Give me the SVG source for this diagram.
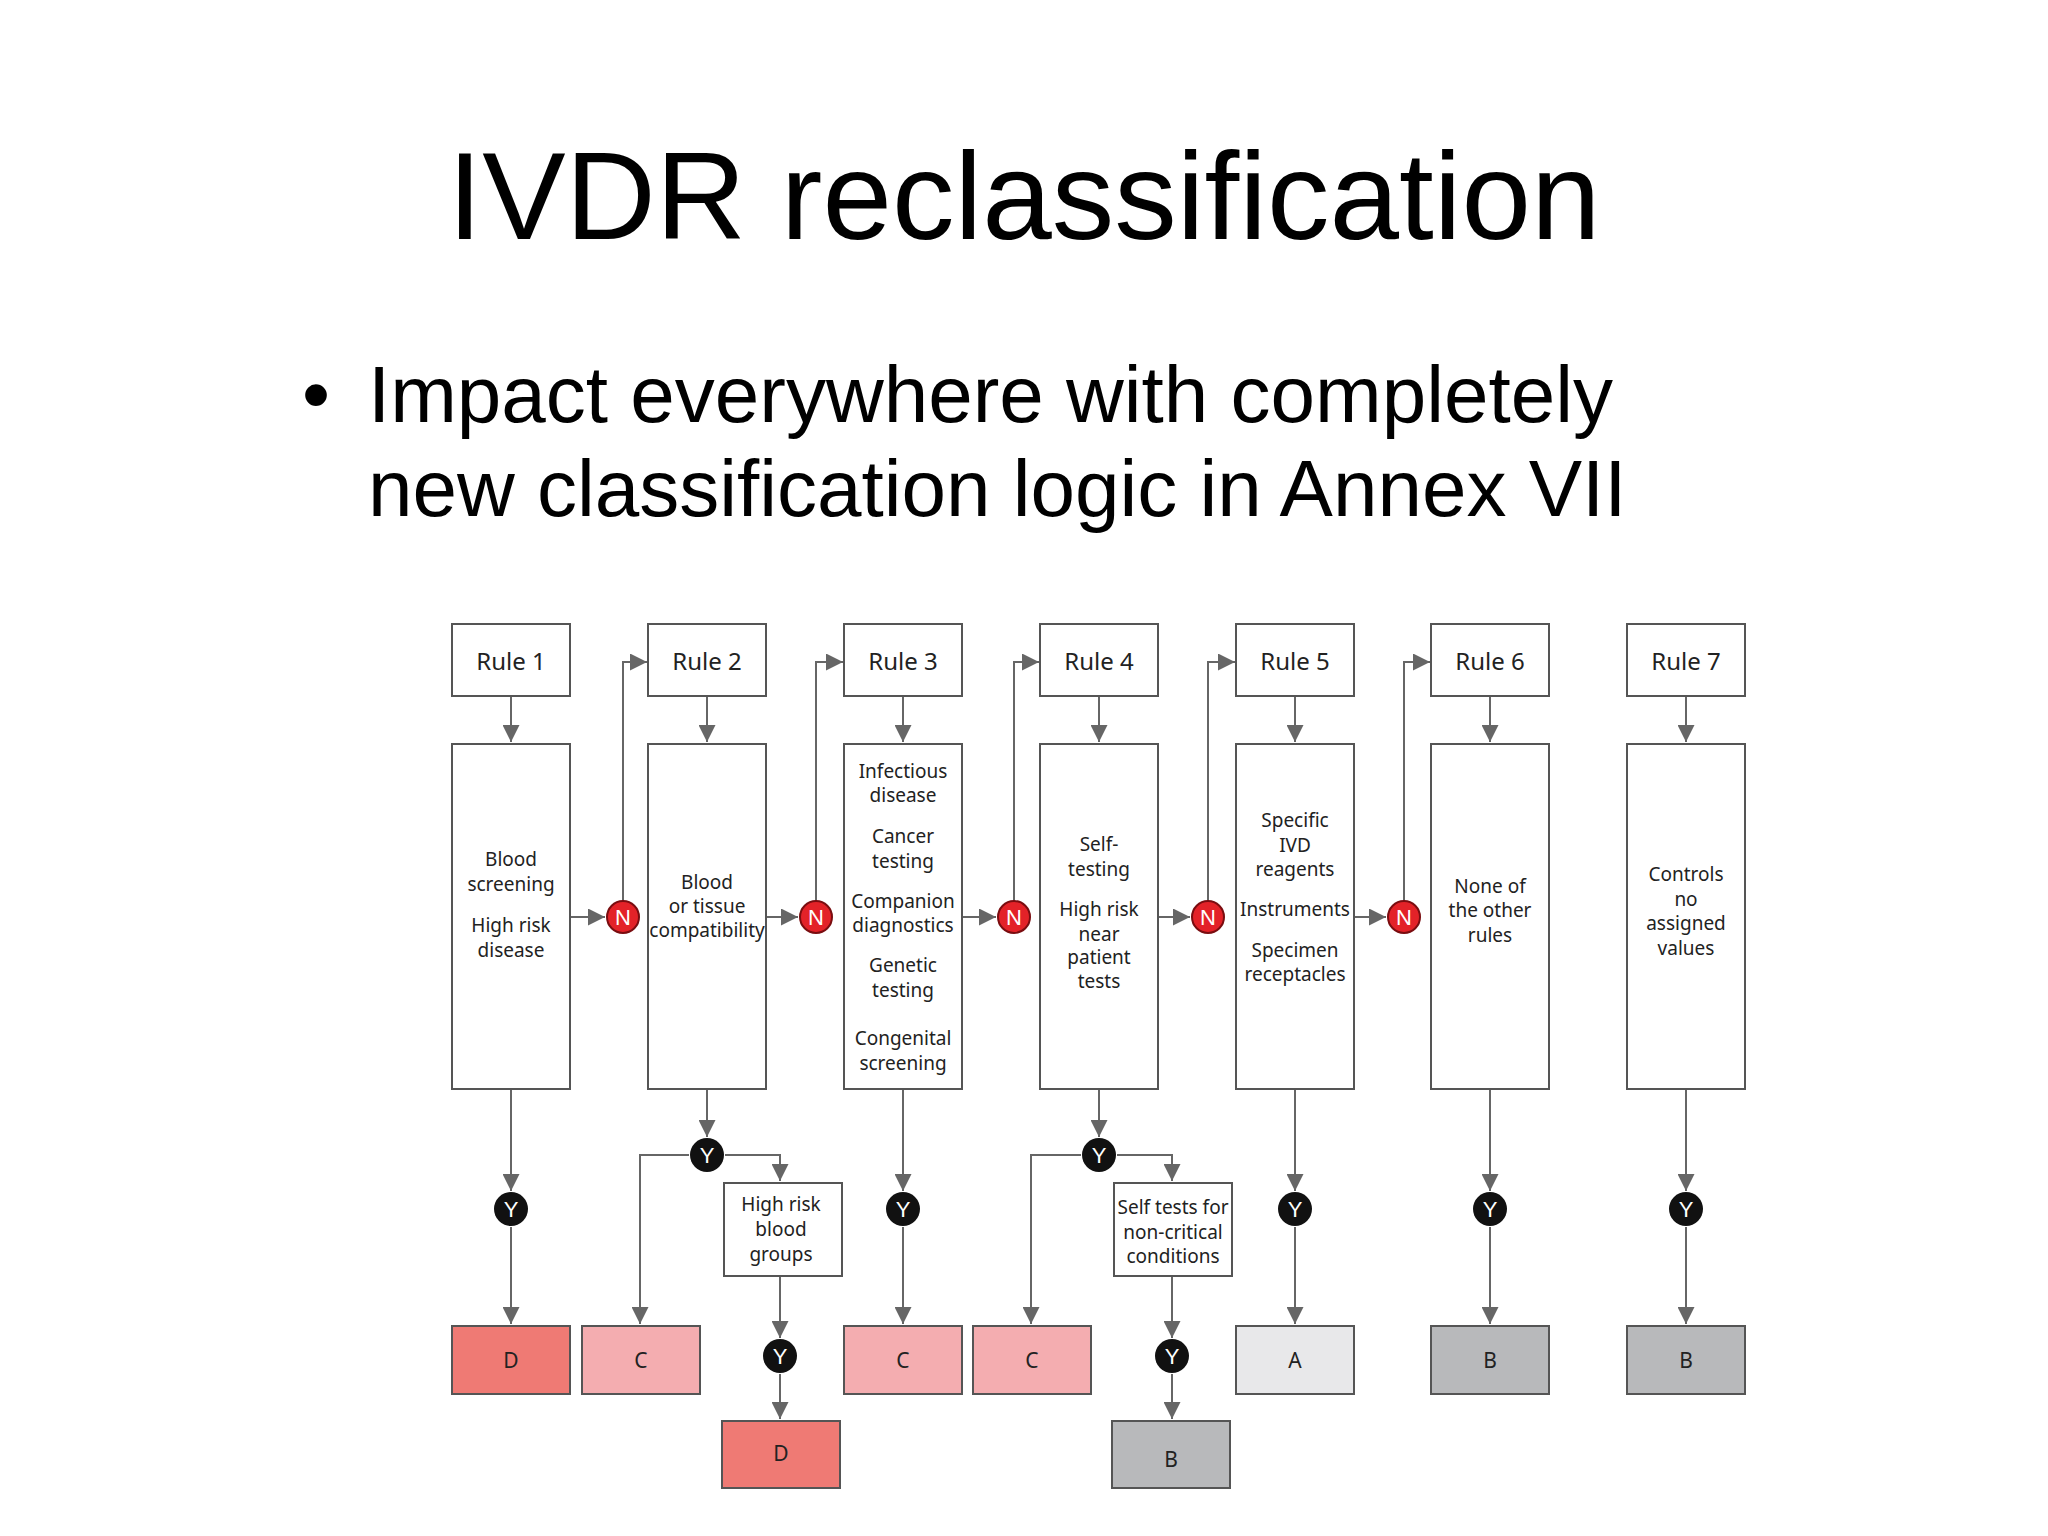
<svg xmlns="http://www.w3.org/2000/svg" width="2048" height="1536" viewBox="0 0 2048 1536">
<style>
.b{fill:#fff;stroke:#555;stroke-width:2}
.t{font-family:"Noto Sans","DejaVu Sans",sans-serif;font-size:19px;fill:#222;text-anchor:middle}
.k{font-family:"Noto Sans","DejaVu Sans",sans-serif;font-size:21px;fill:#222;text-anchor:middle;stroke:none}
.r{font-family:"Noto Sans","DejaVu Sans",sans-serif;font-size:24px;fill:#222;text-anchor:middle}
.l{fill:none;stroke:#666;stroke-width:2}
.n{fill:#e32228;stroke:#7a0d10;stroke-width:2}
.y{fill:#111}
.ct{font-family:"Liberation Sans",sans-serif;font-size:22px;fill:#fff;text-anchor:middle}
</style>
<defs><marker id="m" viewBox="0 0 10 10" refX="10" refY="5" markerWidth="17" markerHeight="17" markerUnits="userSpaceOnUse" orient="auto"><path d="M0,0L10,5L0,10z" fill="#666"/></marker></defs>
<rect width="2048" height="1536" fill="#fff"/>
<text x="1024" y="239" font-family="Liberation Sans,sans-serif" font-size="125" text-anchor="middle" fill="#000">IVDR reclassification</text>
<text x="316" y="422" font-family="Liberation Sans,sans-serif" font-size="80" text-anchor="middle" fill="#000">•</text>
<text x="368" y="422" font-family="Liberation Sans,sans-serif" font-size="80" fill="#000">Impact everywhere with completely</text>
<text x="368" y="516" font-family="Liberation Sans,sans-serif" font-size="80" fill="#000">new classification logic in Annex VII</text>
<g id="connectors">
<g class="l" marker-end="url(#m)">
<path d="M511 696V742"/><path d="M707 696V742"/><path d="M903 696V742"/><path d="M1099 696V742"/><path d="M1295 696V742"/><path d="M1490 696V742"/><path d="M1686 696V742"/>
<path d="M570 917H605"/><path d="M766 917H798"/><path d="M962 917H996"/><path d="M1158 917H1190"/><path d="M1354 917H1386"/>
<path d="M623 901V662H647"/><path d="M816 901V662H843"/><path d="M1014 901V662H1039"/><path d="M1208 901V662H1235"/><path d="M1404 901V662H1430"/>
<path d="M511 1089V1191"/><path d="M511 1227V1324"/>
<path d="M903 1089V1191"/><path d="M903 1227V1324"/>
<path d="M1295 1089V1191"/><path d="M1295 1227V1324"/>
<path d="M1490 1089V1191"/><path d="M1490 1227V1324"/>
<path d="M1686 1089V1191"/><path d="M1686 1227V1324"/>
<path d="M707 1089V1137"/><path d="M689 1155H640V1324"/><path d="M725 1155H780V1181"/><path d="M780 1276V1338"/><path d="M780 1374V1419"/>
<path d="M1099 1089V1137"/><path d="M1081 1155H1031V1324"/><path d="M1117 1155H1172V1181"/><path d="M1172 1276V1338"/><path d="M1172 1374V1419"/>
</g></g>
<g id="rules">
<g id="r1"><rect class="b" x="452" y="624" width="118" height="72"/><text class="r" x="511" y="670">Rule 1</text></g>
<g id="r2"><rect class="b" x="648" y="624" width="118" height="72"/><text class="r" x="707" y="670">Rule 2</text></g>
<g id="r3"><rect class="b" x="844" y="624" width="118" height="72"/><text class="r" x="903" y="670">Rule 3</text></g>
<g id="r4"><rect class="b" x="1040" y="624" width="118" height="72"/><text class="r" x="1099" y="670">Rule 4</text></g>
<g id="r5"><rect class="b" x="1236" y="624" width="118" height="72"/><text class="r" x="1295" y="670">Rule 5</text></g>
<g id="r6"><rect class="b" x="1431" y="624" width="118" height="72"/><text class="r" x="1490" y="670">Rule 6</text></g>
<g id="r7"><rect class="b" x="1627" y="624" width="118" height="72"/><text class="r" x="1686" y="670">Rule 7</text></g>
</g>
<g id="content">
<g id="c1"><rect class="b" x="452" y="744" width="118" height="345"/><text class="t" x="511" y="866">Blood</text><text class="t" x="511" y="891">screening</text><text class="t" x="511" y="932">High risk</text><text class="t" x="511" y="957">disease</text></g>
<g id="c2"><rect class="b" x="648" y="744" width="118" height="345"/><text class="t" x="707" y="889">Blood</text><text class="t" x="707" y="913">or tissue</text><text class="t" x="707" y="937">compatibility</text></g>
<g id="c3"><rect class="b" x="844" y="744" width="118" height="345"/><text class="t" x="903" y="778">Infectious</text><text class="t" x="903" y="802">disease</text><text class="t" x="903" y="843">Cancer</text><text class="t" x="903" y="868">testing</text><text class="t" x="903" y="908">Companion</text><text class="t" x="903" y="932">diagnostics</text><text class="t" x="903" y="972">Genetic</text><text class="t" x="903" y="997">testing</text><text class="t" x="903" y="1045">Congenital</text><text class="t" x="903" y="1070">screening</text></g>
<g id="c4"><rect class="b" x="1040" y="744" width="118" height="345"/><text class="t" x="1099" y="851">Self-</text><text class="t" x="1099" y="876">testing</text><text class="t" x="1099" y="916">High risk</text><text class="t" x="1099" y="941">near</text><text class="t" x="1099" y="964">patient</text><text class="t" x="1099" y="988">tests</text></g>
<g id="c5"><rect class="b" x="1236" y="744" width="118" height="345"/><text class="t" x="1295" y="827">Specific</text><text class="t" x="1295" y="852">IVD</text><text class="t" x="1295" y="876">reagents</text><text class="t" x="1295" y="916">Instruments</text><text class="t" x="1295" y="957">Specimen</text><text class="t" x="1295" y="981">receptacles</text></g>
<g id="c6"><rect class="b" x="1431" y="744" width="118" height="345"/><text class="t" x="1490" y="893">None of</text><text class="t" x="1490" y="917">the other</text><text class="t" x="1490" y="942">rules</text></g>
<g id="c7"><rect class="b" x="1627" y="744" width="118" height="345"/><text class="t" x="1686" y="881">Controls</text><text class="t" x="1686" y="906">no</text><text class="t" x="1686" y="930">assigned</text><text class="t" x="1686" y="955">values</text></g>
<g id="s2"><rect class="b" x="724" y="1183" width="118" height="93"/><text class="t" x="781" y="1211">High risk</text><text class="t" x="781" y="1236">blood</text><text class="t" x="781" y="1261">groups</text></g>
<g id="s4"><rect class="b" x="1114" y="1183" width="118" height="93"/><text class="t" x="1173" y="1214">Self tests for</text><text class="t" x="1173" y="1239">non-critical</text><text class="t" x="1173" y="1263">conditions</text></g>
</g>
<g id="nodesN">
<circle class="n" cx="623" cy="917" r="16"/><text class="ct" x="623" y="925">N</text>
<circle class="n" cx="816" cy="917" r="16"/><text class="ct" x="816" y="925">N</text>
<circle class="n" cx="1014" cy="917" r="16"/><text class="ct" x="1014" y="925">N</text>
<circle class="n" cx="1208" cy="917" r="16"/><text class="ct" x="1208" y="925">N</text>
<circle class="n" cx="1404" cy="917" r="16"/><text class="ct" x="1404" y="925">N</text>
</g>
<g id="nodesY">
<circle class="y" cx="511" cy="1209" r="17"/><text class="ct" x="511" y="1217">Y</text>
<circle class="y" cx="903" cy="1209" r="17"/><text class="ct" x="903" y="1217">Y</text>
<circle class="y" cx="1295" cy="1209" r="17"/><text class="ct" x="1295" y="1217">Y</text>
<circle class="y" cx="1490" cy="1209" r="17"/><text class="ct" x="1490" y="1217">Y</text>
<circle class="y" cx="1686" cy="1209" r="17"/><text class="ct" x="1686" y="1217">Y</text>
<circle class="y" cx="707" cy="1155" r="17"/><text class="ct" x="707" y="1163">Y</text>
<circle class="y" cx="1099" cy="1155" r="17"/><text class="ct" x="1099" y="1163">Y</text>
<circle class="y" cx="780" cy="1356" r="17"/><text class="ct" x="780" y="1364">Y</text>
<circle class="y" cx="1172" cy="1356" r="17"/><text class="ct" x="1172" y="1364">Y</text>
</g>
<g id="classes" stroke="#555" stroke-width="2">
<g id="k1"><rect x="452" y="1326" width="118" height="68" fill="#ef7a74"/><text class="k" x="511" y="1368">D</text></g>
<g id="k2"><rect x="582" y="1326" width="118" height="68" fill="#f4adb0"/><text class="k" x="641" y="1368">C</text></g>
<g id="k2b"><rect x="722" y="1421" width="118" height="67" fill="#ef7a74"/><text class="k" x="781" y="1461">D</text></g>
<g id="k3"><rect x="844" y="1326" width="118" height="68" fill="#f4adb0"/><text class="k" x="903" y="1368">C</text></g>
<g id="k4"><rect x="973" y="1326" width="118" height="68" fill="#f4adb0"/><text class="k" x="1032" y="1368">C</text></g>
<g id="k4b"><rect x="1112" y="1421" width="118" height="67" fill="#b8b9bb"/><text class="k" x="1171" y="1467">B</text></g>
<g id="k5"><rect x="1236" y="1326" width="118" height="68" fill="#e8e8ea"/><text class="k" x="1295" y="1368">A</text></g>
<g id="k6"><rect x="1431" y="1326" width="118" height="68" fill="#b8b9bb"/><text class="k" x="1490" y="1368">B</text></g>
<g id="k7"><rect x="1627" y="1326" width="118" height="68" fill="#b8b9bb"/><text class="k" x="1686" y="1368">B</text></g>
</g>
</svg>
